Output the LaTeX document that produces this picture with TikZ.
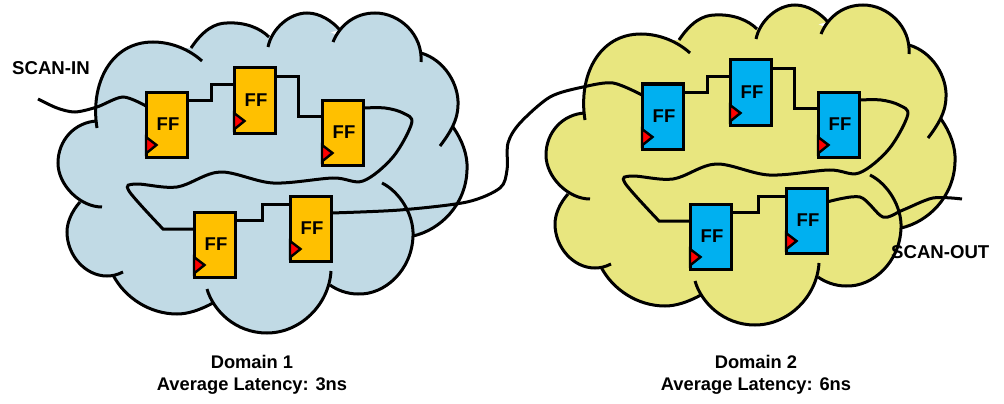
\documentclass[tikz,border=0pt]{standalone}
\usepackage{fontspec}
\setmainfont{Liberation Sans}
\usetikzlibrary{calc}
\definecolor{cloudblue}{HTML}{C1DAE5}
\definecolor{cloudyellow}{HTML}{E8E67F}
\definecolor{ffblue}{HTML}{00B0F0}
\definecolor{fforange}{HTML}{FFC000}
\tikzset{
  outline/.style={line width=3pt,black},
  wire/.style={line width=3pt,black,line join=miter},
  ffbox/.style={draw=black,line width=3pt,minimum width=41pt,minimum height=65pt,inner sep=0pt,outer sep=0pt,anchor=north west,font=\fontsize{18.5}{18.5}\selectfont\bfseries,text=black},
  clk/.style={draw=black,fill=red,line width=2.4pt,line join=miter},
  caption/.style={font=\fontsize{18.3}{22}\selectfont\bfseries,align=center,text=black},
  tag/.style={font=\fontsize{18.6}{18.6}\selectfont\bfseries,text=black,inner sep=0pt}
}
\newcommand{\lobes}[1]{%
  #1 (97,128) .. controls (90,85) and (110,42) .. (153,42) .. controls (172,42) and (190,50) .. (202,61);
  #1 (191,48) .. controls (203,30) and (215,23) .. (227,23) .. controls (245,22) and (260,28) .. (269,37);
  #1 (268,47) .. controls (272,28) and (290,13) .. (307,13) .. controls (320,13) and (332,21) .. (340,30);
  #1 (333,42) .. controls (340,25) and (355,13) .. (375,13) .. controls (400,13) and (423,35) .. (421,62);
  #1 (421,53) .. controls (445,60) and (459,85) .. (458,105) .. controls (458,120) and (450,133) .. (440,146);
  #1 (453,127) .. controls (462,140) and (468,155) .. (467,170) .. controls (466,205) and (440,230) .. (413,236);
  #1 (382,183) .. controls (400,192) and (414,215) .. (413,236) .. controls (412,270) and (385,295) .. (358,294) .. controls (347,294) and (337,290) .. (330,285);
  #1 (331,271) .. controls (329,305) and (300,333) .. (267,333) .. controls (235,333) and (213,310) .. (207,289);
  #1 (213,303) .. controls (200,310) and (188,314) .. (177,314) .. controls (150,314) and (125,298) .. (113,275);
  #1 (123,272) .. controls (117,275) and (112,276) .. (107,276) .. controls (85,276) and (67,255) .. (67,232) .. controls (67,222) and (72,211) .. (80,202);
  #1 (102,207) .. controls (80,207) and (58,185) .. (58,163) .. controls (58,140) and (75,122) .. (97,121);
}
\newcommand{\cloudshape}[1]{%
  \fill[#1] (97,125)--(153,50)--(191,48)--(227,30)--(269,37)--(307,20)--(336,35)--(375,20)--(421,55)--(450,100)--(453,127)--(460,170)--(413,236)--(400,270)--(330,285)--(267,325)--(213,303)--(177,305)--(113,275)--(75,235)--(80,202)--(65,160)--cycle;
  \lobes{\fill[#1]}
  \lobes{\draw[outline]}
}
\newcommand{\clockmark}[1]{%
  \draw[clk] ($(#1.south west)+(0,-20)$) -- ($(#1.south west)+(10.5,-12)$) -- ($(#1.south west)+(0,-3.5)$) -- cycle;
}
\newcommand{\ffblocks}[1]{%
  \node[ffbox,fill=#1] (f1) at (146,92) {\hspace{3pt}FF};
  \node[ffbox,fill=#1] (f2) at (234,68) {\hspace{3pt}FF};
  \node[ffbox,fill=#1] (f3) at (322,100) {\hspace{3pt}FF};
  \node[ffbox,fill=#1] (f4) at (194,212) {\hspace{3pt}FF};
  \node[ffbox,fill=#1] (f5) at (290,196) {\hspace{3pt}FF};
  \clockmark{f1}\clockmark{f2}\clockmark{f3}\clockmark{f4}\clockmark{f5}
  \draw[wire] ($(f1.north east)+(0,8)$) -| (211,84.5) -- ($(f2.north west)+(0,16.5)$);
  \draw[wire] ($(f2.north east)+(0,8.5)$) -| (298,116.5) -- ($(f3.north west)+(0,16.5)$);
  \draw[wire] ($(f4.north east)+(0,8.5)$) -| (262.5,204) -- ($(f5.north west)+(0,8)$);
  \coordinate (f3o) at ($(f3.north east)+(0,8)$);
  \coordinate (f4i) at ($(f4.north west)+(0,17)$);
  \draw[wire] plot[smooth,tension=0.55] coordinates {(f3o) (385,108) (403,113) (411.7,123) (393,157) (363,181) (333,178) (273,183) (220,172) (177,187) (136,184) (129,191) (163,229)} -- (f4i);
}
\begin{document}
\begin{tikzpicture}[x=1pt,y=-1pt]
\useasboundingbox (0,0) rectangle (1004,404);
\cloudshape{cloudblue}
\begin{scope}[shift={(488,-8)}]
\cloudshape{cloudyellow}
\end{scope}
\ffblocks{fforange}
\begin{scope}[shift={(496,-8)},name prefix=b-]
\ffblocks{ffblue}
\end{scope}
\coordinate (scanin) at (38,99);
\coordinate (scanout) at (962,199);
\coordinate (f1i) at ($(f1.north west)+(0,14)$);
\draw[wire] plot[smooth] coordinates {(scanin) (57,108) (75,112) (97,107) (123,97) (f1i)};
\coordinate (f5o) at ($(f5.north east)+(0,17)$);
\coordinate (b1i) at ($(b-f1.north west)+(0,11)$);
\draw[wire] plot[smooth] coordinates {(f5o) (400,210) (467,202) (500,188) (507,170) (508,143) (520,123) (550,97) (583,87) (613,83) (b1i)};
\coordinate (b5o) at ($(b-f5.north east)+(0,14)$);
\draw[wire] plot[smooth] coordinates {(b5o) (860,197) (883,217) (903,210) (933,198) (scanout)};
\node[tag,anchor=west] (si) at (12,68) {SCAN-IN};
\node[tag,anchor=west] (so) at (891,252) {SCAN-OUT};
\node[caption] (d1) at (252,375) {Domain 1\\Average Latency: 3ns};
\node[caption] (d2) at (756,375) {Domain 2\\Average Latency: 6ns};
\end{tikzpicture}
\end{document}
